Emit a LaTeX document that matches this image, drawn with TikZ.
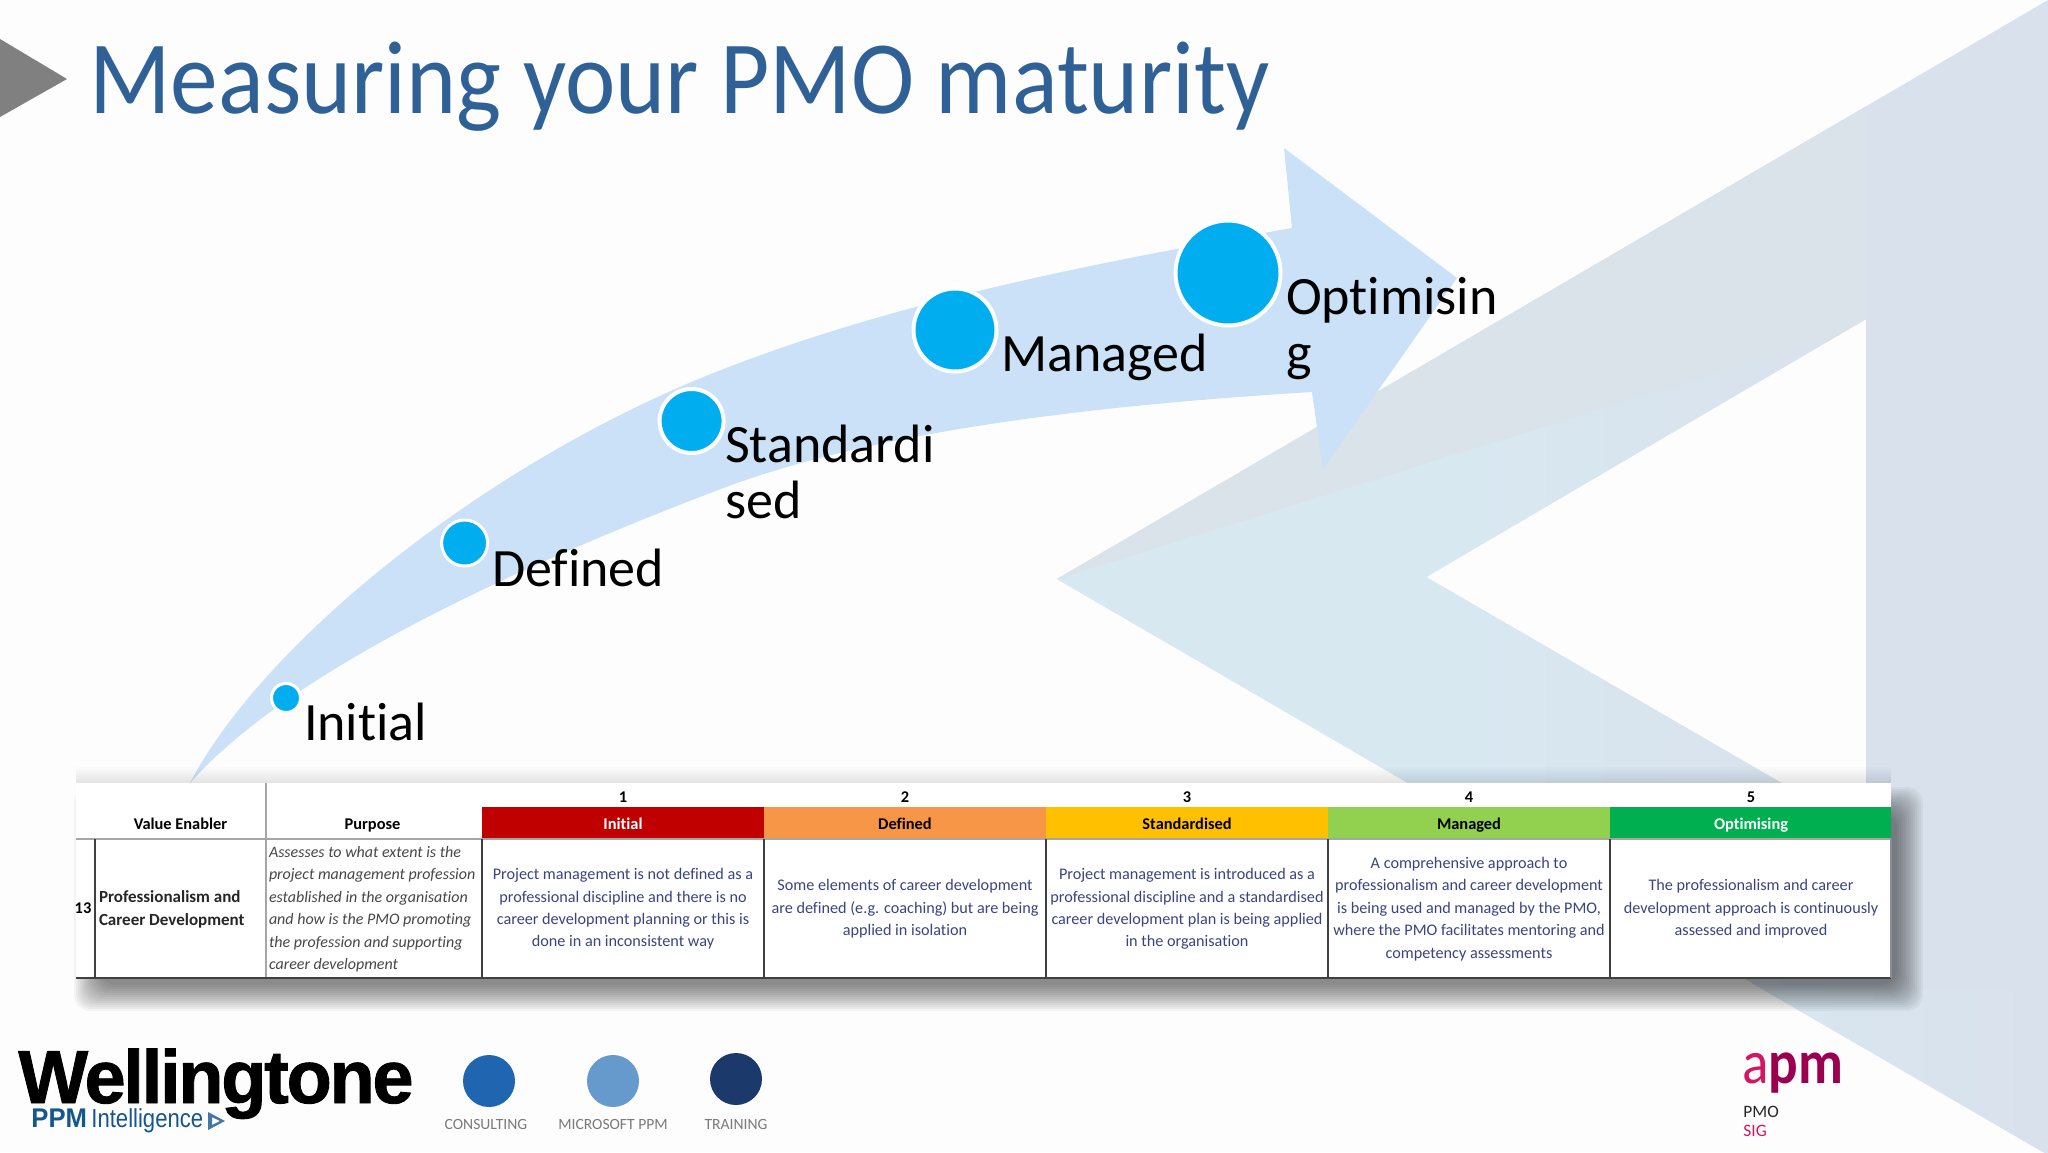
\documentclass[tikz,border=0pt]{standalone}
\usepackage{fontspec}
\usepackage{graphicx}
\setmainfont[Ligatures=NoCommon]{Carlito}
\newfontfamily\wfont[BoldFeatures={FakeBold=1.2,LetterSpace=-3}]{Liberation Sans}
\newfontfamily\ppmfont{Liberation Sans}
\definecolor{slidebg}{HTML}{FDFDFE}
\definecolor{chevbase}{HTML}{D9E2EC}
\definecolor{chevlight}{HTML}{D8E8F1}
\definecolor{chevmid}{HTML}{D9E1EC}
\definecolor{chevtop}{HTML}{DAE3EA}
\definecolor{arrowblue}{HTML}{CAE1F7}
\definecolor{dotblue}{HTML}{00AEEF}
\definecolor{titleblue}{HTML}{2F6197}
\definecolor{bodyblue}{HTML}{3A4480}
\definecolor{lvlred}{HTML}{C00000}
\definecolor{lvlorange}{HTML}{F79646}
\definecolor{lvlamber}{HTML}{FFC000}
\definecolor{lvllime}{HTML}{92D050}
\definecolor{lvlgreen}{HTML}{00B050}
\definecolor{ppmblue}{HTML}{15568E}
\definecolor{logoa}{HTML}{D6145F}
\definecolor{logopm}{HTML}{9B0050}
\tikzset{
  stepdot/.style={circle,fill=dotblue,draw=white,inner sep=0pt,outer sep=0pt},
  steplabel/.style={anchor=base west,inner sep=0pt,outer sep=0pt,text=black,font=\fontsize{27}{27.7}\selectfont,align=left},
  cellbody/.style={inner sep=0pt,outer sep=0pt,text=bodyblue,font=\fontsize{8.1}{11.2}\selectfont,align=center},
  cellhead/.style={anchor=base,inner sep=0pt,outer sep=0pt,text=black,font=\fontsize{8.2}{9}\selectfont\bfseries},
  purposecell/.style={anchor=west,inner sep=0pt,outer sep=0pt,text=black!72,font=\fontsize{8}{11.25}\selectfont\itshape,align=left},
  enablercell/.style={anchor=west,inner sep=0pt,outer sep=0pt,text=black!85,font=\fontsize{8.5}{11.4}\selectfont\bfseries,align=left},
  gridline/.style={line width=0.8pt,draw=black!75},
  softline/.style={line width=0.9pt,draw=black!35},
  svcdot/.style={circle,minimum size=26pt,inner sep=0pt,outer sep=0pt},
  svclabel/.style={inner sep=0pt,outer sep=0pt,text=black!52,font=\fontsize{7.8}{9}\selectfont},
}
\begin{document}
\begin{tikzpicture}[x=0.5pt,y=-0.5pt]
\useasboundingbox (0,0) rectangle (2048,1152);
\fill[slidebg] (0,0) rectangle (2048,1152);
% background chevron
\begin{scope}
  \clip (1057,579) -- (2048,0) -- (2048,1155) -- (1057,579) -- (1426,577) -- (1866,832) -- (1866,319) -- (1426,577) -- cycle;
  \fill[chevbase] (1050,0) rectangle (2048,1152);
  \shade[left color=chevlight,right color=chevmid,middle color=chevlight] (1050,300) rectangle (1866,1152);
  \shade[left color=chevlight,right color=chevmid] (1700,990) rectangle (2048,1152);
  \fill[chevtop] (1057,579) -- (1866,105) -- (1866,326) -- cycle;
\end{scope}
% grey marker and title
\fill[black!50] (0,39) -- (67,79) -- (0,117) -- cycle;
\node[anchor=base west,inner sep=0pt,text=titleblue] (title) at (89,113)
  {\scalebox{0.917}[1]{\fontsize{52}{56}\selectfont Measuring your PMO maturity}};
% curved arrow
\fill[arrowblue] (190,783) .. controls (265,640) and (490,460) .. (721,370)
  .. controls (900,300) and (1100,262) .. (1292,228)
  -- (1284,148) -- (1457,278) -- (1323,469) -- (1312,392)
  .. controls (1100,405) and (880,430) .. (726,487)
  .. controls (520,565) and (290,670) .. (190,783) -- cycle;
% stage dots
\node[stepdot,line width=1.5pt,minimum size=14.5pt] (dot1) at (286,698) {};
\node[stepdot,line width=1.5pt,minimum size=23pt] (dot2) at (464.6,543) {};
\node[stepdot,line width=2pt,minimum size=32pt] (dot3) at (691.6,421) {};
\node[stepdot,line width=2pt,minimum size=41.5pt] (dot4) at (955,330) {};
\node[stepdot,line width=2pt,minimum size=52.5pt] (dot5) at (1228,273) {};
\node[steplabel] (lab1) at (304,740) {Initial};
\node[steplabel] (lab2) at (492,586) {Defined};
\node[steplabel] (lab3) at (725,518) {Standardi\\sed};
\node[steplabel] (lab4) at (1001,371) {Managed};
\node[steplabel] (lab5) at (1286,370) {Optimisin\\g};
% table shadow
\foreach \i in {1,...,8}{
  \fill[black,opacity=0.012] (76,{783-2*\i}) rectangle (1891,783);
}
\foreach \i in {1,...,14}{
  \fill[black,opacity=0.04,rounded corners=8pt] ({102-2*\i},{815-2*\i}) rectangle ({1895+2*\i},{983+2*\i});
}
% table
\fill[white] (76,783) rectangle (1891,978);
\fill[lvlred] (482,807) rectangle (764,839);
\fill[lvlorange] (764,807) rectangle (1046,839);
\fill[lvlamber] (1046,807) rectangle (1328,839);
\fill[lvllime] (1328,807) rectangle (1610,839);
\fill[lvlgreen] (1610,807) rectangle (1891,839);
\draw[softline] (76,839) -- (1891,839);
\draw[softline] (266,783) -- (266,978);
\foreach \x in {95,482,764,1046,1328,1610}{\draw[gridline] (\x,839) -- (\x,978);}
\draw[gridline] (76,978) -- (1891,978);
\draw[line width=0.6pt,draw=black!45] (1891,839) -- (1891,978);
\node[cellhead] (n1) at (623,802) {1};
\node[cellhead] (n2) at (905,802) {2};
\node[cellhead] (n3) at (1187,802) {3};
\node[cellhead] (n4) at (1469,802) {4};
\node[cellhead] (n5) at (1751,802) {5};
\node[cellhead] (hve) at (180.5,829) {Value Enabler};
\node[cellhead] (hpu) at (372.5,829) {Purpose};
\node[cellhead,text=white] (h1) at (623,829) {Initial};
\node[cellhead] (h2) at (905,829) {Defined};
\node[cellhead] (h3) at (1187,829) {Standardised};
\node[cellhead] (h4) at (1469,829) {Managed};
\node[cellhead,text=white] (h5) at (1751,829) {Optimising};
\node[cellhead] (rown) at (83,913) {13};
\node[enablercell] (enab) at (99,909) {Professionalism and\\Career Development};
\node[purposecell] (purp) at (269,909) {Assesses to what extent is the\\project management profession\\established in the organisation\\and how is the PMO promoting\\the profession and supporting\\career development};
\node[cellbody] (c1) at (623,909) {Project management is not defined as a\\professional discipline and there is no\\career development planning or this is\\done in an inconsistent way};
\node[cellbody] (c2) at (905,909) {Some elements of career development\\are defined (e.g. coaching) but are being\\applied in isolation};
\node[cellbody] (c3) at (1187,909) {Project management is introduced as a\\professional discipline and a standardised\\career development plan is being applied\\in the organisation};
\node[cellbody] (c4) at (1469,909) {A comprehensive approach to\\professionalism and career development\\is being used and managed by the PMO,\\where the PMO facilitates mentoring and\\competency assessments};
\node[cellbody] (c5) at (1751,909) {The professionalism and career\\development approach is continuously\\assessed and improved};
% Wellingtone logo
\node[anchor=base west,inner sep=0pt,text=black] (well) at (18,1103)
  {\scalebox{0.985}[1]{\fontsize{37.5}{40}\selectfont\wfont\bfseries Wellingtone}};
\node[anchor=base west,inner sep=0pt,text=ppmblue] (ppm) at (31,1127)
  {\scalebox{0.95}[1]{\fontsize{13.5}{14}\selectfont\ppmfont\bfseries PPM}};
\node[anchor=base west,inner sep=0pt,text=ppmblue] (intel) at (91,1127)
  {\scalebox{0.85}[1]{\fontsize{13}{14}\selectfont\ppmfont Intelligence}};
\fill[ppmblue!80!white,even odd rule] (208,1112) -- (225,1121) -- (208,1130) -- cycle (212,1117) -- (220,1121) -- (212,1125) -- cycle;
% service dots
\node[svcdot,fill={rgb,255:red,32;green,101;blue,176}] (s1) at (489,1081) {};
\node[svcdot,fill={rgb,255:red,102;green,153;blue,204}] (s2) at (613,1081) {};
\node[svcdot,fill={rgb,255:red,27;green,58;blue,107}] (s3) at (736,1079) {};
\node[svclabel] (sl1) at (486,1124) {CONSULTING};
\node[svclabel] (sl2) at (613,1124) {MICROSOFT PPM};
\node[svclabel] (sl3) at (736,1124) {TRAINING};
% apm logo
\node[anchor=base west,inner sep=0pt] (apm) at (1742,1083)
  {\scalebox{0.89}[1]{\fontsize{31}{33}\selectfont\textcolor{logoa}{a}\textcolor{logopm}{\bfseries pm}}};
\node[anchor=base west,inner sep=0pt,text=black!85,font=\fontsize{8.7}{10}\selectfont] (pmo) at (1743,1117) {PMO};
\node[anchor=base west,inner sep=0pt,text=logoa,font=\fontsize{8.7}{10}\selectfont] (sig) at (1743,1136) {SIG};
\end{tikzpicture}
\end{document}
